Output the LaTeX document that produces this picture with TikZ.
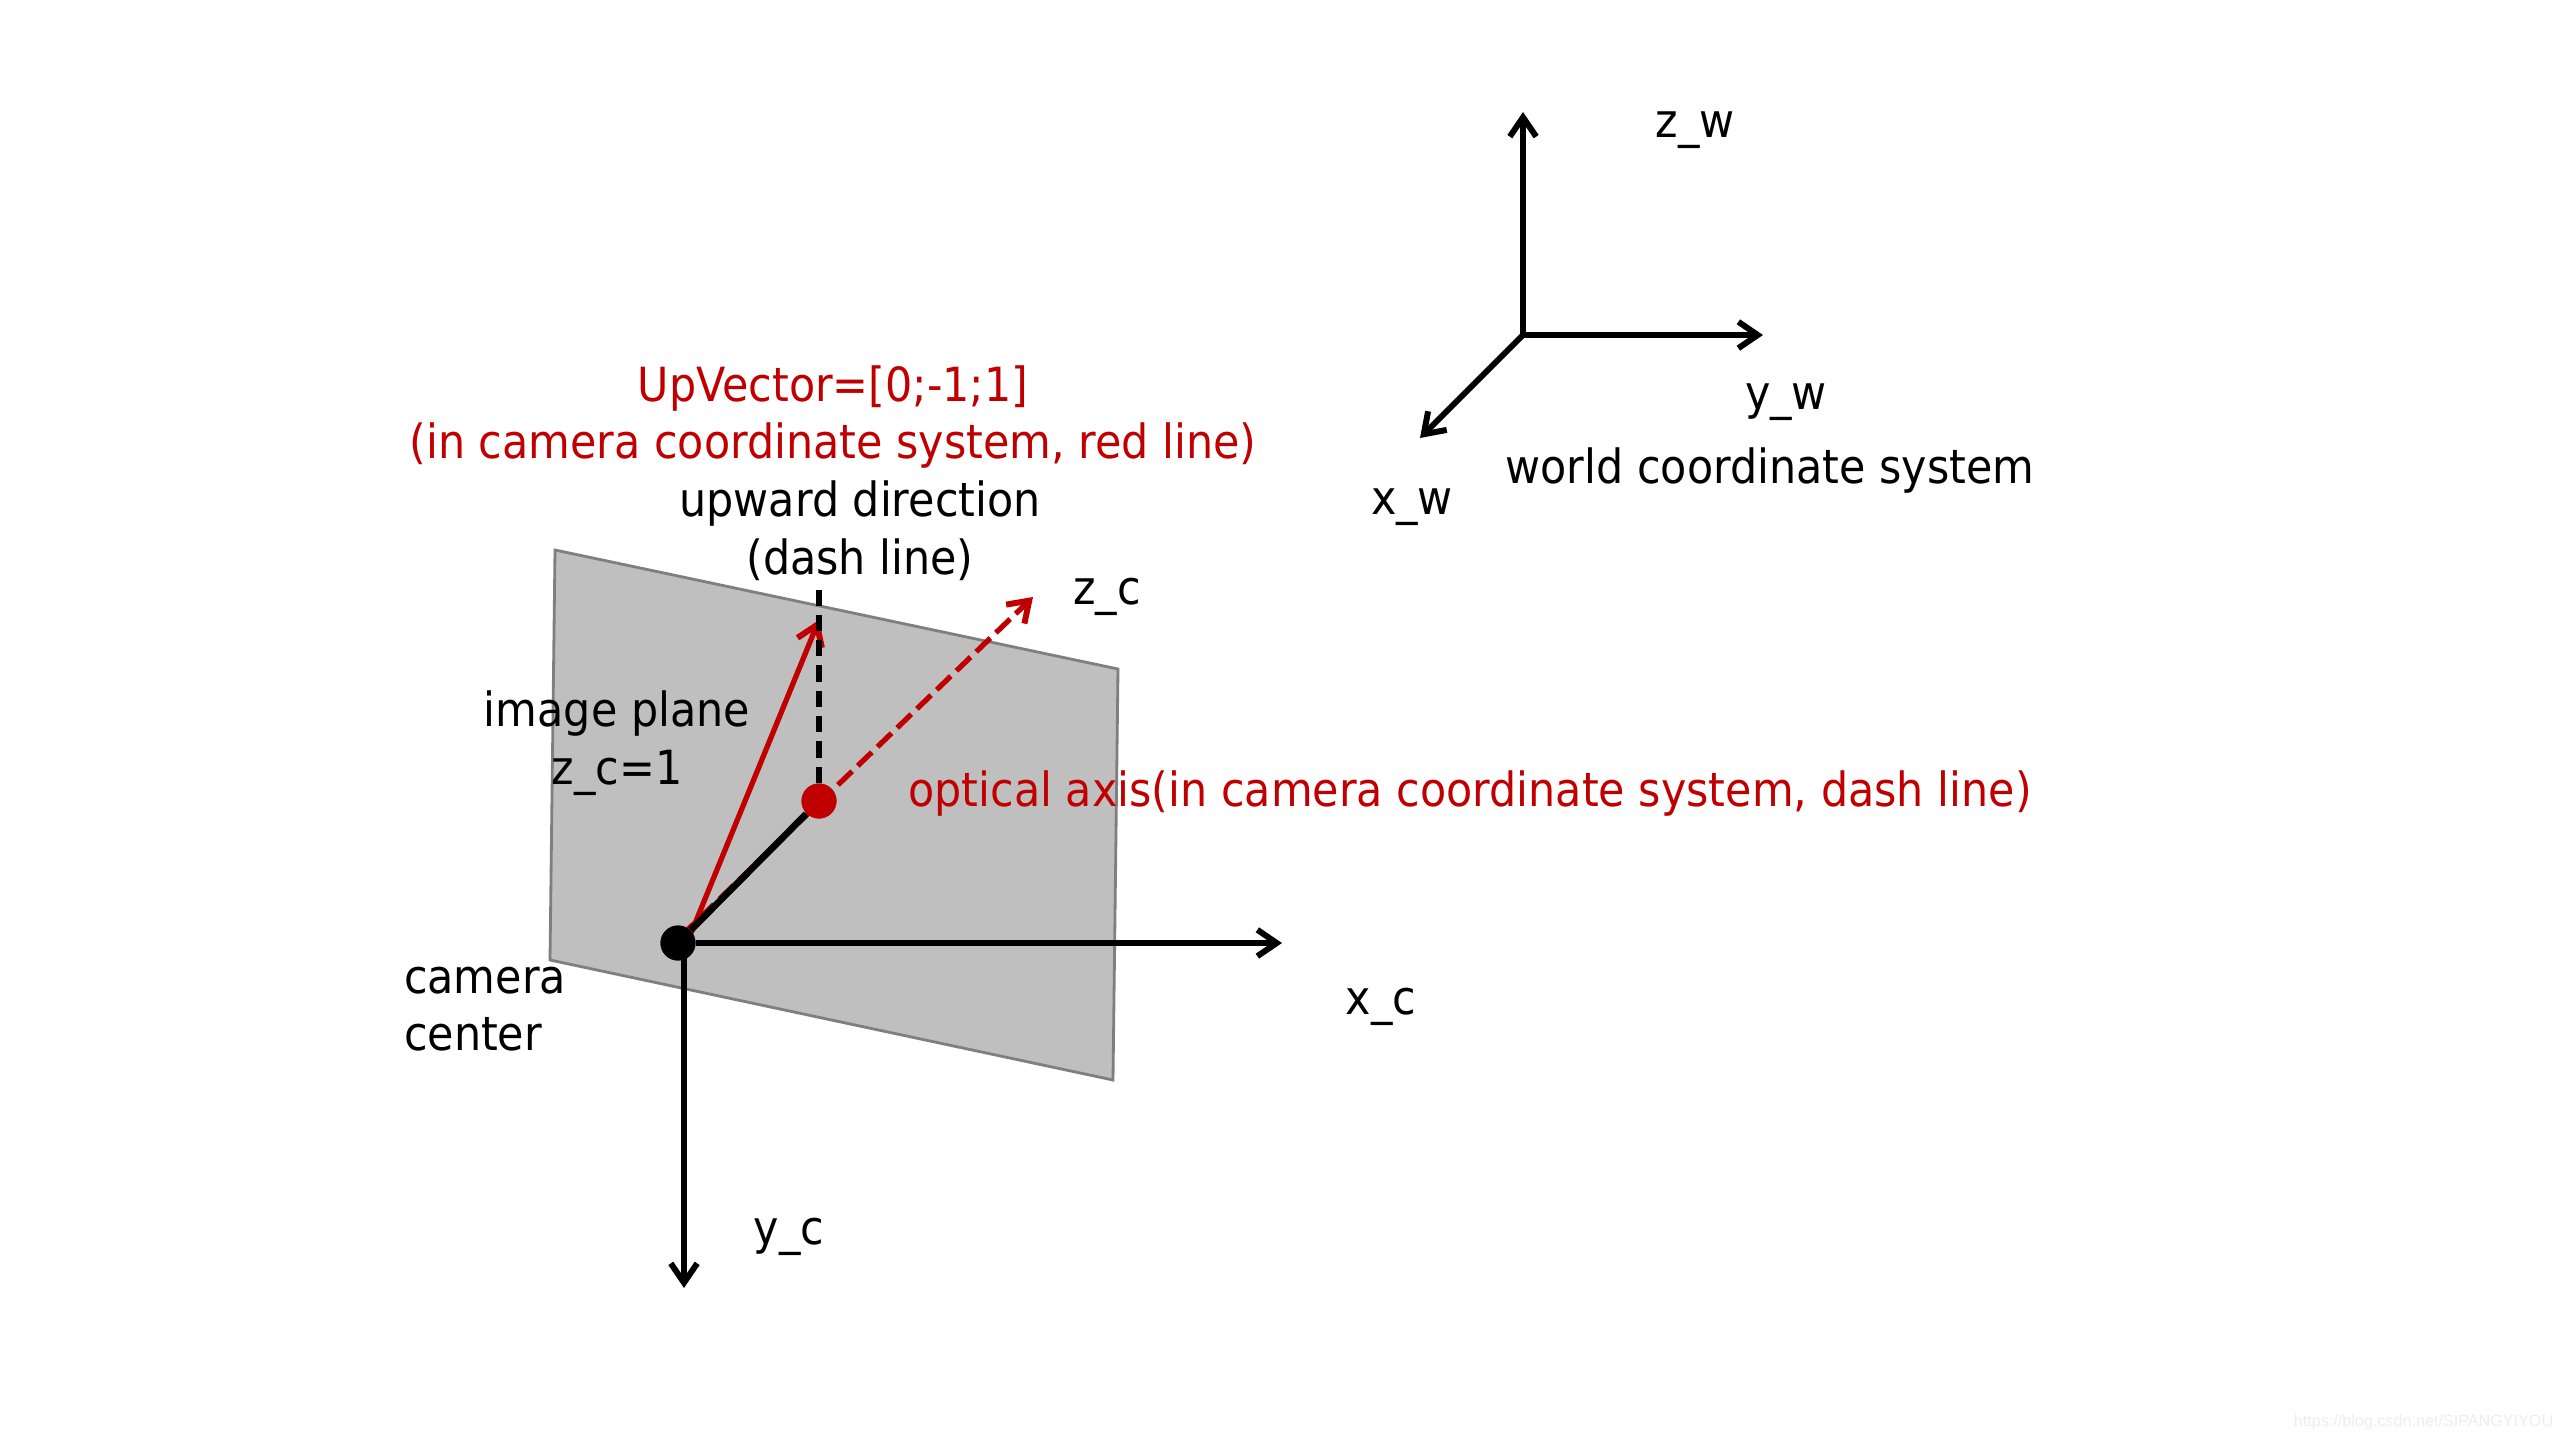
\documentclass[tikz,border=0pt]{standalone}
\usepackage{fontspec}
\setmainfont[FakeStretch=0.91]{DejaVu Sans}
\newfontfamily\markfont{Liberation Sans}
\usetikzlibrary{arrows.meta,positioning}
\definecolor{camred}{HTML}{C00000}
\definecolor{planegray}{HTML}{BFBFBF}
\definecolor{planeedge}{HTML}{7F7F7F}

\begin{document}
\begin{tikzpicture}[
  >={Straight Barb[length=5.5pt,width=7.5pt,line width=1.7pt]},
  every node/.style={font=\fontsize{13.4}{16.4}\selectfont,inner sep=0pt,align=center},
  axis/.style={draw,->,line width=1.7pt},
  redaxis/.style={draw=camred,->,line width=1.5pt},
  dot/.style={circle,minimum size=0.35cm},
  redtext/.style={text=camred},
  ]
  \useasboundingbox (0,0) rectangle (25.6,-14.4);
  % image plane
  \coordinate (plane-a) at (5.55,-5.50);
  \coordinate (plane-b) at (11.18,-6.69);
  \coordinate (plane-c) at (11.13,-10.80);
  \coordinate (plane-d) at (5.50,-9.60);
  \draw[planeedge,fill=planegray,line width=0.8pt]
  (plane-a) -- (plane-b) -- (plane-c) -- (plane-d) -- cycle;

  \node[dot,fill=black] (camera) at (6.78,-9.43) {};
  \node[dot,fill=camred] (optical) at (8.19,-8.01) {};
  \coordinate (up-foot) at (6.87,-9.43);
  \coordinate (zc-foot) at (6.80,-9.37);
  \coordinate (up-tip) at (8.19,-6.20);
  \coordinate (up-top) at (8.19,-5.88);
  \coordinate (zc-tip) at (10.33,-5.97);
  \coordinate (xc-tip) at (12.82,-9.43);
  \coordinate (yc-tip) at (6.84,-12.88);
  \path[redaxis] (up-foot) -- (up-tip);
  \path[redaxis,dash pattern=on 5.6pt off 2.2pt] (zc-foot) -- (zc-tip);
  \draw[line width=1.6pt,dash pattern=on 4.6pt off 2.6pt] (optical) -- (up-top);
  \draw[line width=1.9pt] (camera) -- (optical);
  \path[axis] (camera) -- (xc-tip);
  \path[axis] (yc-tip |- camera) -- (yc-tip);
  \node[dot,fill=black] at (camera) {};
  \node[dot,fill=camred] at (optical) {};

  % world axes
  \coordinate (world) at (15.23,-3.35);
  \coordinate (zw-tip) at (15.23,-1.12);
  \coordinate (yw-tip) at (17.63,-3.35);
  \coordinate (xw-tip) at (14.20,-4.38);
  \path[axis] (world) -- (zw-tip);
  \path[axis] (world) -- (yw-tip);
  \path[axis] (world) -- (xw-tip);

  \node[redtext] (up-label) at (8.33,-4.17) {UpVector=[0;-1;1]\\(in camera coordinate system, red line)};
  \node (dash-label) at (8.60,-5.31) {upward direction\\(dash line)};
  \node (zc-label) at (11.07,-5.97) {z\_c};
  \node (plane-label) at (6.17,-7.43) {image plane\\z\_c=1};
  \node[redtext] (optical-label) at (14.70,-7.93) {optical axis(in camera coordinate system, dash line)};
  \node[align=left] (camera-label) at (4.85,-10.09) {camera\\center};
  \node (xc-label) at (13.81,-10.07) {x\_c};
  \node (yc-label) at (7.89,-12.37) {y\_c};
  \node (zw-label) at (16.95,-1.30) {z\_w};
  \node (yw-label) at (17.86,-4.02) {y\_w};
  \node (xw-label) at (14.12,-5.07) {x\_w};
  \node (world-label) at (17.70,-4.70) {world coordinate system};
  \node[font=\markfont\fontsize{4.6}{6}\selectfont,text=black!7] (mark) at (24.235,-14.22) {https://blog.csdn.net/SIPANGYIYOU};
\end{tikzpicture}
\end{document}
